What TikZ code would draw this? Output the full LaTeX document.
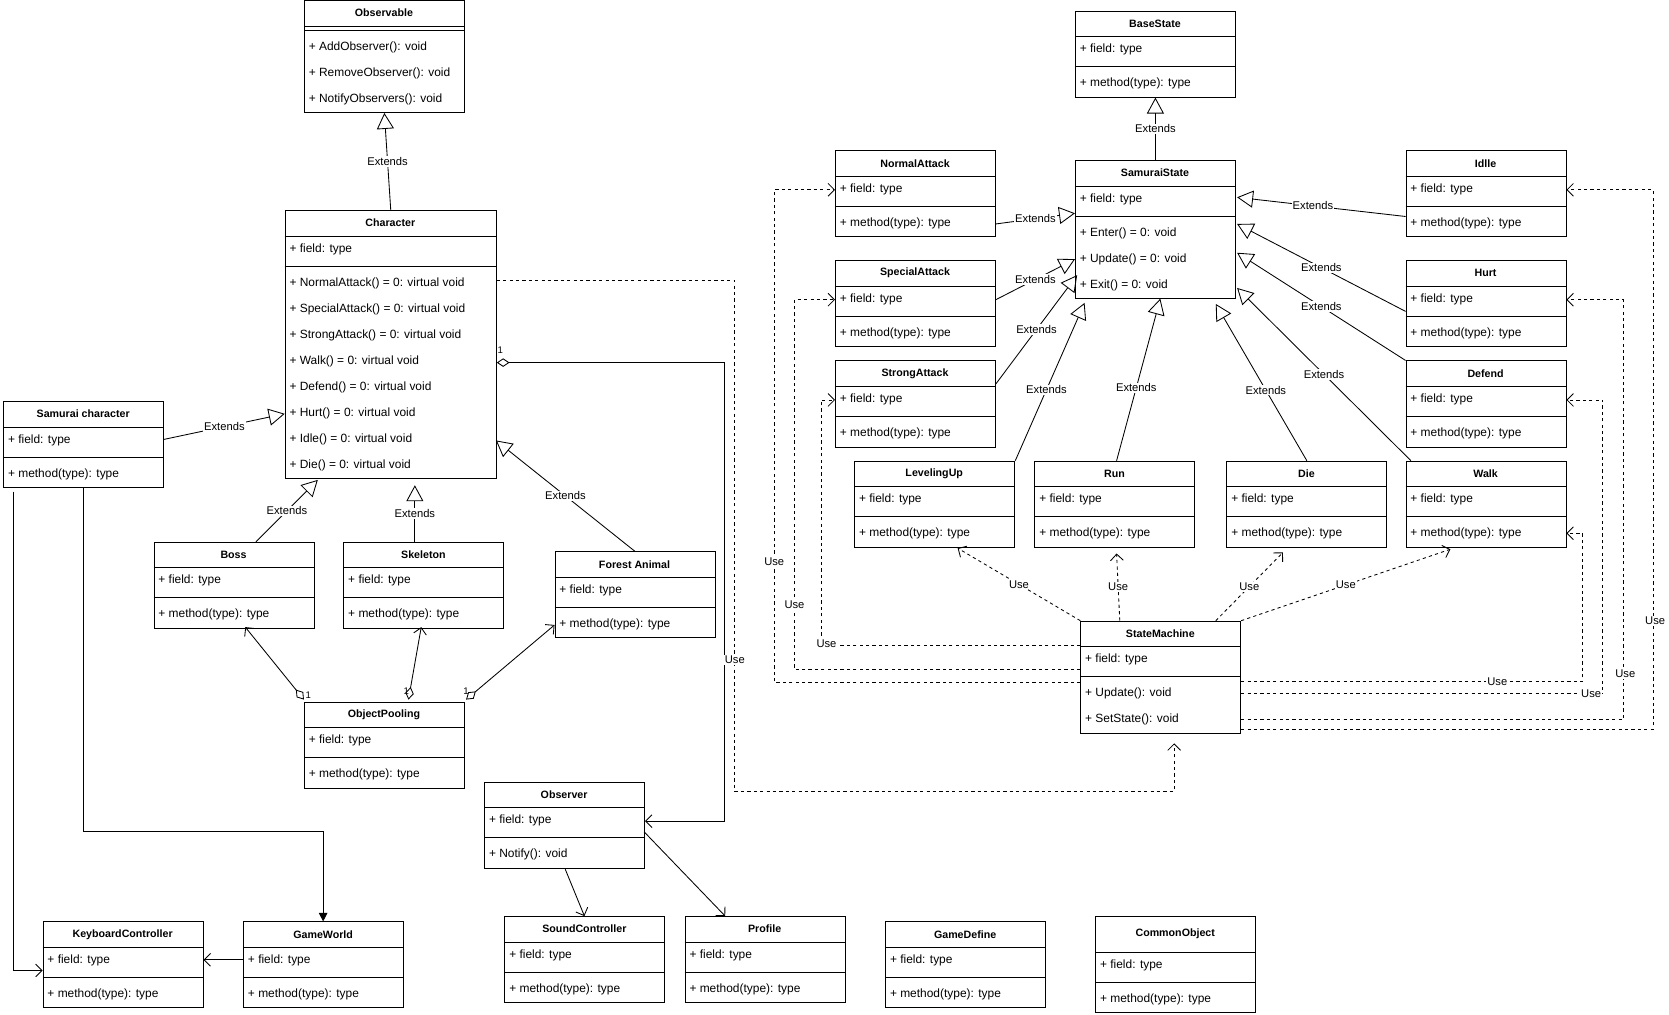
\documentclass[tikz,border=0pt]{standalone}
\usepackage{fontspec}
\setmainfont{Liberation Sans}
\usetikzlibrary{arrows.meta}
\begin{document}
\def\hdr{24.4}
\newcommand\cls[8]{% id x y w title nf nm methods
  \pgfmathsetmacro\hh{\hdr+24.4*(#6+#7)+7.5}
  \node[draw,thick,minimum width=#4,minimum height=\hh,anchor=north west,inner sep=0] (#1) at (#2,#3) {};
  \node[font=\bfseries] at (#2+#4/2,#3+\hdr/2) {#5};
  \draw[thick] (#2,#3+\hdr) -- ++(#4,0);
  \ifnum#6=1 \node[anchor=west] at (#2+1,#3+\hdr+12.2) {+ field: type};\fi
  \draw[thick] (#2,#3+\hdr+24.4*#6+3.75) -- ++(#4,0);
  \foreach \m [count=\i] in {#8}
    \node[anchor=west] at (#2+1,#3+\hdr+24.4*#6+7.5+24.4*\i-12.2) {\m};
}
\begin{tikzpicture}[x=1pt,y=-1pt,font=\fontsize{11.2}{13}\selectfont,
  ext/.style={thick,-{Triangle[open,length=15,width=16]}},
  agg/.style={thick,{Diamond[open,length=12,width=8]}-{Straight Barb[length=6,width=12]}},
  opn/.style={thick,-{Straight Barb[length=6,width=12]}},
  use/.style={thick,dashed,-{Straight Barb[length=6,width=12]}},
  lbl/.style={fill=white,inner sep=1pt,font=\fontsize{10.5}{12}\selectfont}]
\useasboundingbox (0,0) rectangle (1565,951);
\fill[white] (0,0) rectangle (1565,951);
\cls{obs}{285}{0}{150}{Observable}{0}{3}{+ AddObserver(): void,+ RemoveObserver(): void,+ NotifyObservers(): void}
\cls{chr}{267}{197}{198}{Character}{1}{8}{+ NormalAttack() = 0: virtual void,+ SpecialAttack() = 0: virtual void,+ StrongAttack() = 0: virtual void,+ Walk() = 0: virtual void,+ Defend() = 0: virtual void,+ Hurt() = 0: virtual void,+ Idle() = 0: virtual void,+ Die() = 0: virtual void}
\cls{sam}{3}{376}{150}{Samurai character}{1}{1}{+ method(type): type}
\cls{boss}{144}{508}{150}{Boss}{1}{1}{+ method(type): type}
\cls{skel}{322}{508}{150}{Skeleton}{1}{1}{+ method(type): type}
\cls{fa}{520}{517}{150}{Forest Animal}{1}{1}{+ method(type): type}
\cls{op}{285}{658}{150}{ObjectPooling}{1}{1}{+ method(type): type}
\cls{obv}{454}{733}{150}{Observer}{1}{1}{+ Notify(): void}
\cls{snd}{473}{859}{150}{SoundController}{1}{1}{+ method(type): type}
\cls{prof}{642}{859}{150}{Profile}{1}{1}{+ method(type): type}
\cls{gd}{830}{864}{150}{GameDefine}{1}{1}{+ method(type): type}
\cls{kb}{40}{864}{150}{KeyboardController}{1}{1}{+ method(type): type}
\cls{gw}{228}{864}{150}{GameWorld}{1}{1}{+ method(type): type}
\cls{bs}{1008}{10}{150}{BaseState}{1}{1}{+ method(type): type}
\cls{ss}{1008}{150}{150}{SamuraiState}{1}{3}{+ Enter() = 0: void,+ Update() = 0: void,+ Exit() = 0: void}
\cls{na}{783}{141}{150}{NormalAttack}{1}{1}{+ method(type): type}
\cls{sa}{783}{244}{150}{SpecialAttack}{1}{1}{+ method(type): type}
\cls{sta}{783}{338}{150}{StrongAttack}{1}{1}{+ method(type): type}
\cls{idl}{1318}{141}{150}{Idlle}{1}{1}{+ method(type): type}
\cls{hurt}{1318}{244}{150}{Hurt}{1}{1}{+ method(type): type}
\cls{def}{1318}{338}{150}{Defend}{1}{1}{+ method(type): type}
\cls{lv}{801}{432}{150}{LevelingUp}{1}{1}{+ method(type): type}
\cls{run}{970}{432}{150}{Run}{1}{1}{+ method(type): type}
\cls{die}{1150}{432}{150}{Die}{1}{1}{+ method(type): type}
\cls{walk}{1318}{432}{150}{Walk}{1}{1}{+ method(type): type}
\cls{sm}{1013}{582}{150}{StateMachine}{1}{2}{+ Update(): void,+ SetState(): void}
\def\hdr{34}
\cls{co}{1027}{859}{150}{CommonObject}{1}{1}{+ method(type): type}
% extends
\draw[ext] (chr.north) -- node[lbl,pos=0.5]{Extends} (obs.south);
\draw[ext] (sam.east |- 0,412) -- node[lbl,pos=0.5]{Extends} (chr.west |- 0,388);
\draw[ext] (240,508) -- node[lbl,pos=0.5]{Extends} (298,450);
\draw[ext] (389,508) -- node[lbl,pos=0.5]{Extends} (389,455);
\draw[ext] (fa.north) -- node[lbl,pos=0.5]{Extends} (465,413);
\draw[ext] (ss.north) -- node[lbl,pos=0.5]{Extends} (bs.south);
\draw[ext] (na.east |- 0,210) -- node[lbl,pos=0.5]{Extends} (1008,200);
\draw[ext] (sa.east |- 0,281) -- node[lbl,pos=0.5]{Extends} (1008,243);
\draw[ext] (sta.east |- 0,360) -- node[lbl,pos=0.5]{Extends} (1010,258);
\draw[ext] (952,432) -- node[lbl,pos=0.45]{Extends} (1017,284);
\draw[ext] (1047,432) -- node[lbl,pos=0.45]{Extends} (1088,280);
\draw[ext] (die.north) -- node[lbl,pos=0.45]{Extends} (1140,285);
\draw[ext] (1323,432) -- node[lbl,pos=0.5]{Extends} (1160,270);
\draw[ext] (def.north west) -- node[lbl,pos=0.5]{Extends} (1160,237);
\draw[ext] (hurt.west |- 0,292) -- node[lbl,pos=0.5]{Extends} (1160,210);
\draw[ext] (idl.west |- 0,203) -- node[lbl,pos=0.55]{Extends} (1160,185);
% aggregation
\draw[agg] (chr.east |- 0,340) -- (679,340) -- (679,770) -- (obv.east |- 0,770);
\node[font=\fontsize{9}{10}\selectfont] at (469,328) {1};
\draw[agg] (285,656) -- (230,588);
\node[font=\fontsize{9}{10}\selectfont] at (289,652) {1};
\draw[agg] (383,656) -- (395,588);
\node[font=\fontsize{9}{10}\selectfont] at (381,648) {1};
\draw[agg] (437,656) -- (520,586);
\node[font=\fontsize{9}{10}\selectfont] at (437,648) {1};
% solid arrows
\draw[thick,-{Triangle[length=8,width=8]}] (sam.south -| 78,0) -- (78,780) -- (303,780) -- (gw.north -| 303,0);
\draw[opn] (13,461) -- (13,910) -- (kb.west |- 0,910);
\draw[opn] (gw.west |- 0,900) -- (kb.east |- 0,900);
\draw[opn] (530,815) -- (548,859);
\draw[opn] (604,780) -- (680,859);
% use
\draw[use] (chr.east |- 0,263) -- (689,263) -- (689,742) -- (1101,742) -- (1101,697);
\node[lbl] at (689,619) {Use};
\draw[use] (sm.west |- 0,605) -- (770,605) -- (770,375) -- (sta.west |- 0,375);
\node[lbl] at (775,604) {Use};
\draw[use] (sm.west |- 0,628) -- (745,628) -- (745,281) -- (sa.west |- 0,281);
\node[lbl] at (745,567) {Use};
\draw[use] (sm.west |- 0,640) -- (726,640) -- (726,178) -- (na.west |- 0,178);
\node[lbl] at (726,527) {Use};
\draw[use] (sm.east |- 0,639) -- (1484,639) -- (1484,500) -- (walk.east |- 0,500);
\node[lbl] at (1404,639) {Use};
\draw[use] (sm.east |- 0,650) -- (1503,650) -- (1503,375) -- (def.east |- 0,375);
\node[lbl] at (1492,650) {Use};
\draw[use] (sm.east |- 0,675) -- (1522,675) -- (1522,281) -- (hurt.east |- 0,281);
\node[lbl] at (1524,632) {Use};
\draw[use] (sm.east |- 0,684) -- (1550,684) -- (1550,178) -- (idl.east |- 0,178);
\node[lbl] at (1552,582) {Use};
\draw[use] (sm.north west) -- node[lbl,pos=0.5]{Use} (898,514);
\draw[use] (1050,582) -- node[lbl,pos=0.5]{Use} (1047,519);
\draw[use] (1140,582) -- node[lbl,pos=0.5]{Use} (1203,518);
\draw[use] (sm.north east) -- node[lbl,pos=0.5]{Use} (1360,515);
\end{tikzpicture}
\end{document}
